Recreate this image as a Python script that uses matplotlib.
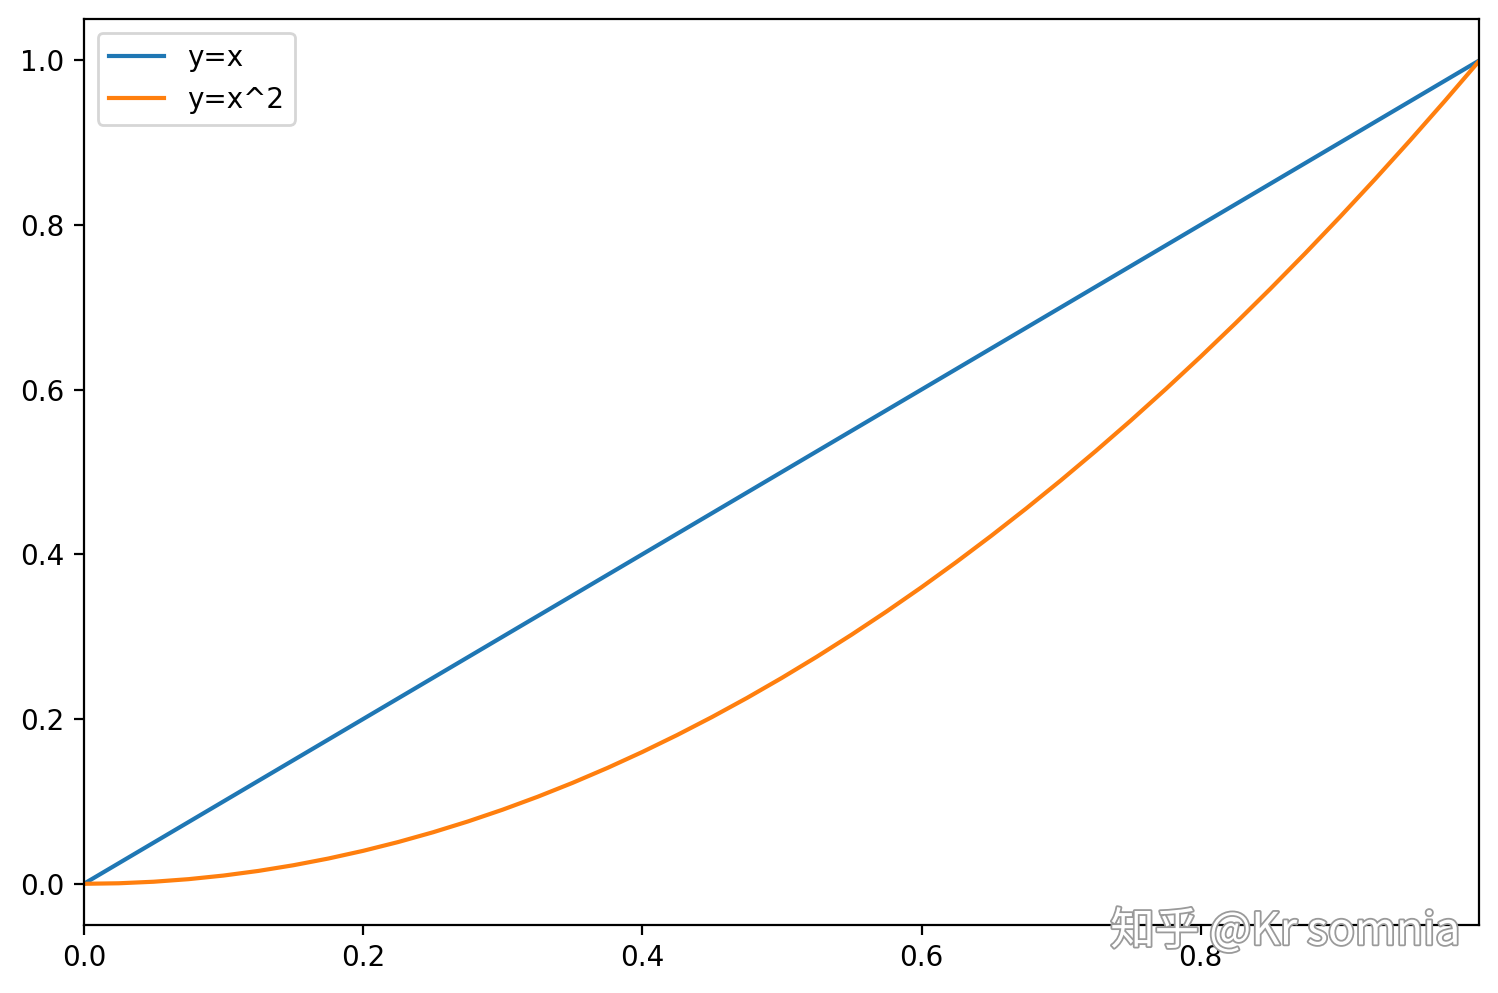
import matplotlib
matplotlib.use("Agg")
import matplotlib.pyplot as plt
import matplotlib.patheffects as pe

x = [0.0, 0.025, 0.05, 0.075, 0.1, 0.125, 0.15, 0.175, 0.2, 0.225, 0.25,
     0.275, 0.3, 0.325, 0.35, 0.375, 0.4, 0.425, 0.45, 0.475, 0.5,
     0.525, 0.55, 0.575, 0.6, 0.625, 0.65, 0.675, 0.7, 0.725, 0.75,
     0.775, 0.8, 0.825, 0.85, 0.875, 0.9, 0.925, 0.95, 0.975, 1.0]
y_lin = list(x)
y_sq = [0.0, 0.000625, 0.0025, 0.005625, 0.01, 0.015625, 0.0225, 0.030625, 0.04, 0.050625, 0.0625,
        0.075625, 0.09, 0.105625, 0.1225, 0.140625, 0.16, 0.180625, 0.2025, 0.225625, 0.25,
        0.275625, 0.3025, 0.330625, 0.36, 0.390625, 0.4225, 0.455625, 0.49, 0.525625, 0.5625,
        0.600625, 0.64, 0.680625, 0.7225, 0.765625, 0.81, 0.855625, 0.9025, 0.950625, 1.0]

fig = plt.figure(figsize=(7.49, 4.965), dpi=200)
ax = fig.add_axes([0.056, 0.0685, 0.931, 0.9125])

ax.plot(x, y_lin, label="y=x")
ax.plot(x, y_sq, label="y=x^2")
ax.set_xlim(0, 0.999)
ax.legend(loc="upper left")

# watermark
fig.text(0.975, 0.062, "知乎 @Kr somnia", ha="right", va="center", fontsize=16,
         family=["Noto Sans CJK SC", "DejaVu Sans"], color="white",
         path_effects=[pe.withStroke(linewidth=1.3, foreground="#9a9a9a")])

fig.savefig("out.png", dpi=200)
